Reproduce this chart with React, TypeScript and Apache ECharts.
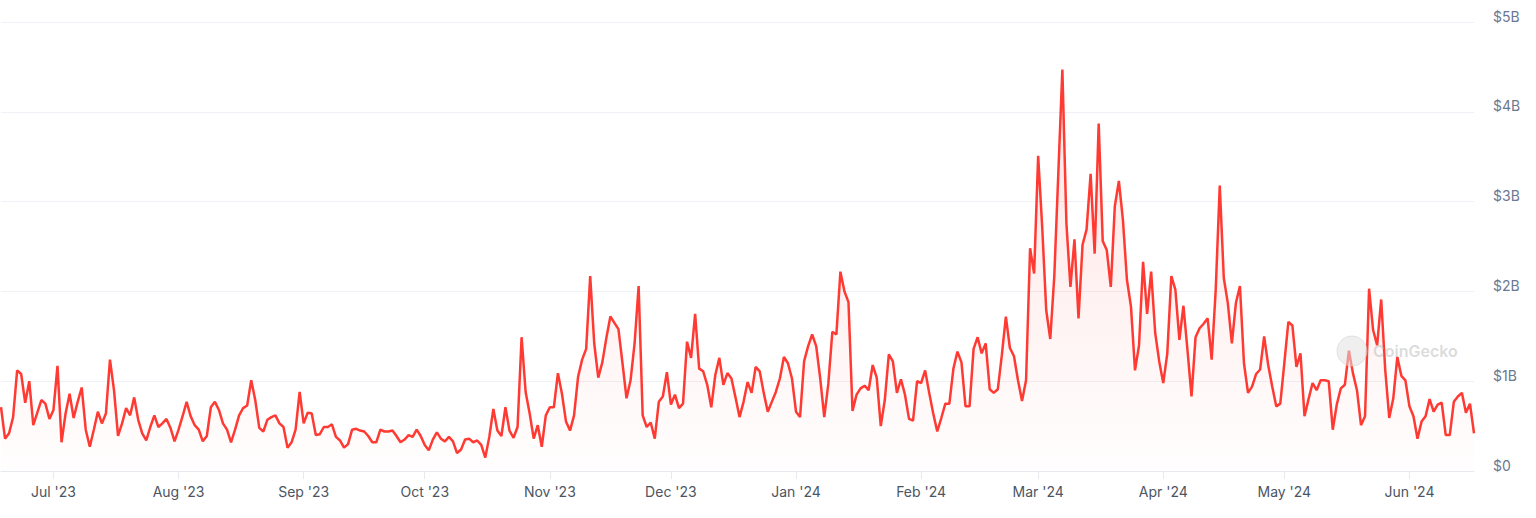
import React, { useEffect, useRef } from "react";
import * as echarts from "echarts";

// Daily trading volume in billions of USD, starting 2023-06-18
const startYear = 2023;
const startMonth = 6; // June
const startDay = 18;

const volumeB: number[] = [
  0.71, 0.36, 0.42, 0.6, 1.12, 1.08, 0.76, 1.0, 0.51, 0.65, 0.79, 0.75, 0.58, 0.68, 1.17, 0.32,
  0.64, 0.86, 0.59, 0.77, 0.93, 0.46, 0.27, 0.46, 0.66, 0.53, 0.64, 1.24, 0.9, 0.39, 0.53, 0.7,
  0.62, 0.82, 0.57, 0.42, 0.34, 0.49, 0.62, 0.49, 0.53, 0.58, 0.48, 0.33, 0.46, 0.61, 0.77, 0.61,
  0.51, 0.46, 0.33, 0.39, 0.71, 0.77, 0.68, 0.53, 0.46, 0.32, 0.46, 0.62, 0.7, 0.73, 1.01, 0.79,
  0.48, 0.44, 0.57, 0.6, 0.62, 0.53, 0.49, 0.26, 0.32, 0.46, 0.88, 0.53, 0.65, 0.64, 0.4, 0.41,
  0.49, 0.49, 0.52, 0.38, 0.34, 0.26, 0.3, 0.46, 0.47, 0.45, 0.44, 0.39, 0.32, 0.32, 0.46, 0.44,
  0.44, 0.45, 0.39, 0.32, 0.35, 0.4, 0.38, 0.46, 0.39, 0.29, 0.23, 0.35, 0.43, 0.36, 0.33, 0.38,
  0.33, 0.2, 0.24, 0.35, 0.36, 0.32, 0.34, 0.29, 0.15, 0.38, 0.69, 0.45, 0.39, 0.71, 0.45, 0.37,
  0.49, 1.49, 0.88, 0.64, 0.36, 0.51, 0.27, 0.62, 0.71, 0.71, 1.09, 0.86, 0.55, 0.45, 0.62, 1.05,
  1.24, 1.36, 2.17, 1.42, 1.04, 1.21, 1.48, 1.72, 1.65, 1.58, 1.2, 0.81, 1.01, 1.42, 2.06, 0.62,
  0.49, 0.54, 0.36, 0.77, 0.83, 1.1, 0.74, 0.85, 0.7, 0.75, 1.44, 1.26, 1.75, 1.14, 1.11, 0.96,
  0.71, 1.07, 1.26, 0.96, 1.09, 1.03, 0.82, 0.6, 0.77, 0.99, 0.87, 1.16, 1.11, 0.87, 0.66, 0.77,
  0.88, 1.03, 1.27, 1.2, 1.03, 0.66, 0.6, 1.22, 1.39, 1.52, 1.39, 1.03, 0.6, 0.97, 1.55, 1.52,
  2.22, 2.0, 1.88, 0.67, 0.85, 0.92, 0.95, 0.9, 1.18, 1.04, 0.5, 0.79, 1.3, 1.22, 0.87, 1.02,
  0.85, 0.58, 0.56, 1.0, 0.98, 1.12, 0.87, 0.64, 0.44, 0.59, 0.75, 0.75, 1.14, 1.33, 1.21, 0.72,
  0.72, 1.36, 1.49, 1.31, 1.42, 0.91, 0.87, 0.91, 1.29, 1.72, 1.37, 1.28, 1.01, 0.78, 1.01, 2.48,
  2.2, 3.51, 2.72, 1.79, 1.47, 2.17, 3.32, 4.47, 2.76, 2.05, 2.58, 1.7, 2.52, 2.69, 3.31, 2.42,
  3.87, 2.56, 2.46, 2.05, 2.95, 3.23, 2.8, 2.13, 1.83, 1.12, 1.4, 2.33, 1.75, 2.22, 1.54, 1.22,
  0.98, 1.31, 2.17, 2.02, 1.46, 1.84, 1.35, 0.83, 1.49, 1.59, 1.64, 1.7, 1.24, 2.02, 3.18, 2.15,
  1.87, 1.42, 1.87, 2.06, 1.2, 0.87, 0.94, 1.08, 1.13, 1.5, 1.18, 0.94, 0.72, 0.75, 1.2, 1.66,
  1.62, 1.16, 1.31, 0.61, 0.8, 0.98, 0.9, 1.01, 1.01, 1.0, 0.46, 0.74, 0.92, 0.96, 1.34, 1.09,
  0.9, 0.51, 0.61, 2.03, 1.57, 1.4, 1.91, 1.13, 0.59, 0.81, 1.27, 1.06, 1.01, 0.72, 0.61, 0.36,
  0.55, 0.61, 0.8, 0.66, 0.74, 0.76, 0.4, 0.4, 0.77, 0.83, 0.87, 0.65, 0.75, 0.42,
];

const monthNames = ["Jan", "Feb", "Mar", "Apr", "May", "Jun", "Jul", "Aug", "Sep", "Oct", "Nov", "Dec"];

const yTicks = [0, 1, 2, 3, 4, 5];

function buildDates(n: number): string[] {
  const out: string[] = [];
  const d = new Date(Date.UTC(startYear, startMonth - 1, startDay));
  for (let i = 0; i < n; i++) {
    out.push(d.toISOString().slice(0, 10));
    d.setUTCDate(d.getUTCDate() + 1);
  }
  return out;
}

const dates = buildDates(volumeB.length);

const isMonthStart = (_i: number, v: string) => typeof v === "string" && v.endsWith("-01");

export default function App() {
  const ref = useRef<HTMLDivElement>(null);

  useEffect(() => {
    if (!ref.current) return;
    const chart = echarts.init(ref.current, null, { renderer: "svg" });
    const font = "Inter, 'Noto Sans', sans-serif";
    chart.setOption({
      animation: false,
      backgroundColor: "#ffffff",
      grid: { left: 1, right: 62, top: 22, bottom: 47 },
      xAxis: {
        type: "category",
        data: dates,
        boundaryGap: false,
        axisLine: { show: true, lineStyle: { color: "#e6e9ee", width: 1 } },
        axisTick: { show: true, interval: isMonthStart, length: 8, lineStyle: { color: "#e6e9ee" } },
        axisLabel: {
          interval: isMonthStart,
          margin: 13,
          color: "#4b5563",
          fontSize: 14,
          fontFamily: font,
          formatter: (v: string) => {
            const [y, m] = v.split("-");
            return `${monthNames[parseInt(m, 10) - 1]} '${y.slice(2)}`;
          },
        },
        splitLine: { show: false },
      },
      yAxis: {
        type: "value",
        position: "right",
        min: yTicks[0],
        max: yTicks[yTicks.length - 1],
        interval: 1,
        axisLine: { show: false },
        axisTick: { show: false },
        splitLine: { lineStyle: { color: "#eef1f5", width: 1 } },
        axisLabel: {
          margin: 19,
          align: "left",
          verticalAlign: "bottom",
          lineHeight: 12,
          color: "#6b7891",
          fontSize: 14,
          fontFamily: font,
          formatter: (v: number) => (v === 0 ? "$0" : `$${v}B`),
        },
      },
      series: [
        {
          type: "line",
          data: volumeB,
          symbol: "none",
          smooth: false,
          lineStyle: { color: "#ff3a33", width: 2.5 },
          areaStyle: {
            color: new echarts.graphic.LinearGradient(0, 0, 0, 1, [
              { offset: 0, color: "rgba(255,58,51,0.2)" },
              { offset: 1, color: "rgba(255,58,51,0.01)" },
            ]),
          },
        },
      ],
      graphic: [
        {
          type: "circle",
          shape: { cx: 1352, cy: 351, r: 15 },
          style: { fill: "rgba(225,225,225,0.55)", stroke: "rgba(210,210,210,0.6)", lineWidth: 1 },
          z: 100,
        },
        {
          type: "text",
          x: 1373,
          y: 351,
          style: {
            text: "CoinGecko",
            fontSize: 16,
            fontWeight: 600,
            fontFamily: font,
            fill: "rgba(190,190,190,0.55)",
            verticalAlign: "middle",
          },
          z: 100,
        },
      ],
    });
    return () => chart.dispose();
  }, []);

  return (
    <div
      ref={ref}
      style={{ position: "absolute", left: 0, top: 0, width: 1536, height: 518 }}
    />
  );
}
